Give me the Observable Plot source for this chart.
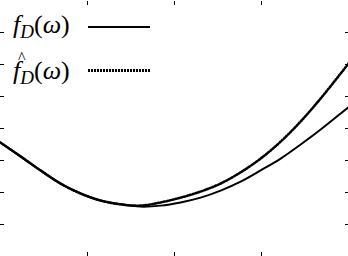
<!DOCTYPE html>
<html><head><meta charset="utf-8">
<script src="https://cdn.jsdelivr.net/npm/d3@7"></script>
<script src="https://cdn.jsdelivr.net/npm/@observablehq/plot@0.6"></script>
<style>body{margin:0;background:#fff}</style>
</head><body><div id="chart"></div>
<script>
const omega = [0, 0.23, 0.46, 0.69, 0.92, 1.15, 1.38, 1.61, 1.84, 2.07, 2.30, 2.53, 2.76, 2.99, 3.22, 3.45, 3.68, 3.91, 4.0];
const fD    = [3.56, 3.13, 2.69, 2.28, 1.97, 1.75, 1.63, 1.56, 1.59, 1.69, 1.84, 2.06, 2.34, 2.69, 3.06, 3.50, 3.97, 4.47, 4.66];
const fDhat = [3.56, 3.13, 2.69, 2.28, 1.97, 1.75, 1.63, 1.59, 1.69, 1.84, 2.03, 2.28, 2.63, 3.06, 3.59, 4.22, 4.94, 5.72, 6.03];
const xTicks = [1, 2, 3];
const yTicks = [1, 2, 3, 4, 5, 6, 7];

const rows = omega.map((w, i) => ({w, a: fD[i], b: fDhat[i]}));

const plot = Plot.plot({
  width: 348, height: 256,
  margin: 0,
  x: {domain: [0, 4], axis: null},
  y: {domain: [0, 8], axis: null},
  marks: [
    Plot.axisX(xTicks, {anchor: "bottom", tickSize: -4, tickFormat: () => "", label: null}),
    Plot.axisX(xTicks, {anchor: "top", tickSize: -4, tickFormat: () => "", label: null}),
    Plot.axisY(yTicks, {anchor: "left", tickSize: -4, tickFormat: () => "", label: null}),
    Plot.axisY(yTicks, {anchor: "right", tickSize: -4, tickFormat: () => "", label: null}),
    Plot.line(rows, {x: "w", y: "b", curve: "catmull-rom", stroke: "#000", strokeWidth: 2.6, strokeDasharray: "1.2,1.8"}),
    Plot.line(rows, {x: "w", y: "a", curve: "catmull-rom", stroke: "#000", strokeWidth: 2})
  ]
});
document.getElementById("chart").append(plot);

const svg = d3.select(plot);
const font = "'Liberation Serif', 'DejaVu Serif', serif";
function label(y, hat) {
  const t = svg.append("text").attr("x", 13).attr("y", y).attr("text-anchor", "start")
    .attr("font-family", font).attr("font-size", 26).attr("font-style", "italic").attr("fill", "#000");
  t.append("tspan").text("f");
  t.append("tspan").attr("dy", 5).attr("font-size", 19).text("D");
  t.append("tspan").attr("dy", -5).attr("font-style", "normal").text("(");
  t.append("tspan").text("ω");
  t.append("tspan").attr("font-style", "normal").text(")");
  if (hat) {
    svg.append("text").attr("x", 18).attr("y", y - 16).attr("text-anchor", "start")
      .attr("font-family", font).attr("font-size", 16).attr("fill", "#000").text("^");
  }
}
label(33, false);
label(79, true);
svg.append("line").attr("x1", 88).attr("x2", 150).attr("y1", 27).attr("y2", 27)
  .attr("stroke", "#000").attr("stroke-width", 2);
svg.append("line").attr("x1", 88).attr("x2", 150).attr("y1", 70.5).attr("y2", 70.5)
  .attr("stroke", "#000").attr("stroke-width", 3).attr("stroke-dasharray", "2,1");
</script>
</body></html>
